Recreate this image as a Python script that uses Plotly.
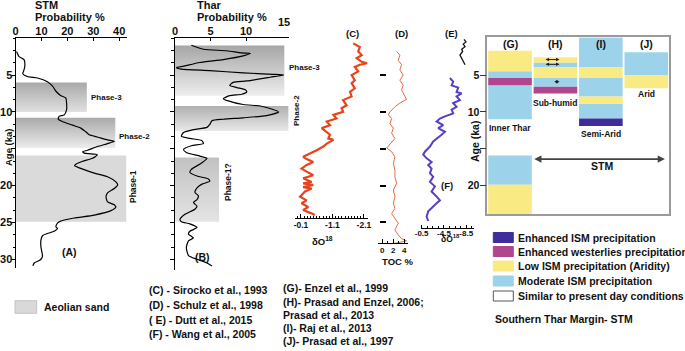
import plotly.graph_objects as go

# ---------------- data ----------------
# (A) STM probability %
A_age = [1.8,2.5,2.9,3.8,4.5,4.8,5.2,5.4,5.9,6.5,7.2,7.8,8.1,8.8,9.7,10.4,10.6,11.0,11.3,11.8,
         12.2,12.7,13.1,13.4,13.8,14.0,14.3,14.7,15.2,15.4,15.6,15.8,16.3,16.7,17.1,17.3,17.6,18.3,18.8,19.5,
         19.9,20.4,21.0,21.5,22.2,22.6,22.9,23.4,24.0,24.4,24.8,25.1,25.6,25.8,26.2,26.5,26.8,27.4,28.3,29.6,
         30.1,30.5,30.9]
A_prob = [0.4,1.4,3.3,3.6,3.1,2.8,4.6,8.5,12.3,14.3,15.6,17.5,19.4,19.7,19.7,18.8,16.8,16.5,18.1,22.0,
          25.2,27.1,28.4,31.6,35.5,38.1,35.5,31.6,27.8,25.9,26.5,31.6,29.7,25.9,23.3,22.8,24.6,30.4,35.5,38.7,
          39.4,38.1,35.5,34.9,35.5,38.1,38.7,36.8,30.4,22.6,17.5,16.2,15.6,16.2,14.9,12.3,10.4,9.8,9.8,10.4,
          9.5,7.2,6.7]
A_phase_name = ["Phase-3", "Phase-2", "Phase-1"]
A_phase_top = [6.0, 10.8, 15.9]
A_phase_bot = [10.0, 14.9, 24.9]
A_phase_max = [27.5, 38.5, 42.7]

# (B) Thar probability %
B_age = [0.95,1.5,1.7,2.0,2.05,2.4,2.9,3.3,3.8,4.0,4.2,4.4,4.7,4.9,5.0,5.3,5.8,6.0,6.4,6.7,
         7.0,7.3,7.6,7.8,8.2,8.5,9.0,9.2,9.6,10.0,10.5,10.8,11.0,11.2,11.7,12.1,12.4,12.8,13.3,13.6,
         13.9,14.3,14.6,15.1,15.5,16.0,16.3,16.9,17.8,18.2,18.7,19.1,19.4,19.8,20.3,20.9,21.4,21.9,22.3,22.8,
         23.2,23.9,24.6,24.9,25.2,25.7,26.2,26.6,27.1,27.5,28.4,29.5,30.0,30.5,30.9]
B_prob = [2.3,4.0,7.3,9.4,10.6,9.6,6.8,3.5,1.2,0.2,0.9,4.9,9.6,13.8,15.3,13.4,10.1,8.2,7.7,8.7,
          9.9,10.1,9.4,7.7,6.8,7.5,9.6,12.0,13.6,14.6,12.9,9.6,6.8,5.2,4.9,4.5,2.6,1.2,0.9,2.1,
          3.8,4.0,2.3,1.2,1.6,3.5,4.5,3.8,2.3,2.1,3.1,4.7,4.9,3.8,3.1,2.8,3.3,3.1,2.6,3.1,
          2.8,1.4,0.7,0.9,2.1,3.1,2.1,1.9,2.6,1.9,1.6,1.9,3.1,4.5,5.2]
B_phase_name = ["Phase-3", "Phase-2", "Phase-1?"]
B_phase_top = [1.0, 9.2, 16.2]
B_phase_bot = [7.8, 12.6, 24.9]
B_phase_max = [15.4, 16.0, 6.2]

# (C) d18O (Sirocko et al., 1993)
C_age = [0.7,1.2,1.8,2.3,2.7,3.2,3.4,3.6,3.9,4.5,5.0,5.7,6.1,6.8,7.3,7.9,8.4,9.1,9.5,10.0,
         10.4,10.9,11.3,11.8,12.2,12.7,13.1,13.6,13.8,14.3,14.7,15.2,15.6,16.1,16.4,16.8,17.2,17.7,18.1,18.6,
         19.0,19.5,19.7,19.9,20.2,20.4,20.8,21.5,22.0,22.4,22.9,23.3,23.7,24.0]
C_d18o = [-1.76,-1.97,-1.92,-2.03,-1.87,-2.03,-2.20,-1.97,-1.81,-1.92,-1.71,-1.81,-1.71,-1.81,-1.66,-1.71,-1.44,-1.55,-1.39,-1.44,
          -1.13,-1.23,-0.92,-1.02,-0.76,-0.92,-1.02,-0.97,-1.13,-0.92,-0.81,-0.60,-0.39,-0.17,-0.28,-0.49,-0.28,-0.12,-0.28,-0.49,
          -0.17,-0.44,-0.17,-0.49,-0.17,-0.44,-0.23,-0.07,-0.28,-0.12,-0.33,-0.17,-0.39,-0.54]

# (D) TOC % (Schulz et al., 1998)
D_age = [1.8,2.3,3.0,3.6,4.3,5.0,5.7,6.4,7.0,8.3,8.8,9.3,10.0,10.4,10.9,11.6,12.2,12.9,13.6,14.3,
         14.9,15.4,16.1,17.0,17.9,18.8,19.7,20.6,21.5,22.4,23.1,23.8,24.4,25.1,26.0,26.7,27.2,27.5,27.8,27.9]
D_toc = [2.6,3.2,2.9,3.5,3.2,3.8,3.2,3.8,3.5,4.4,3.2,2.3,1.4,1.1,1.7,1.4,2.0,1.7,2.3,1.4,
         0.8,1.7,2.3,2.0,2.3,2.3,2.6,2.0,2.3,2.0,2.3,1.7,2.3,2.9,2.3,2.9,3.5,4.4,2.6,1.4]

# (E) Dutt et al., 2015 (relative)
E_age = [0.15,0.5,0.8,1.15,1.5,1.8,2.3,2.7,3.2,3.6]
E_val = [6.0,7.3,5.5,6.7,4.5,5.1,3.3,4.5,5.5,6.7]

# (F) d18O (Wang et al., 2005)
F_age = [5.4,5.9,6.4,6.7,7.3,7.5,7.9,8.4,8.8,9.3,9.7,10.2,10.6,10.9,11.3,11.8,12.2,12.7,13.1,13.6,
         14.0,14.7,15.4,15.8,16.3,16.8,17.2,17.7,18.3,18.8,19.5,20.1,20.8,21.5,22.0,22.4,22.9,23.5,24.2,24.8]
F_d18o = [-5.57,-6.16,-5.88,-7.06,-6.77,-7.67,-6.77,-7.36,-6.16,-6.77,-5.88,-6.16,-4.68,-3.78,-3.19,-4.37,-3.47,-4.68,-4.08,-3.19,
          -2.58,-1.99,-1.09,-0.79,-1.40,-2.29,-1.68,-2.29,-1.99,-2.58,-1.99,-2.88,-2.29,-3.19,-3.78,-3.19,-2.58,-1.68,-1.40,-1.68]

# (G)-(J) climate interpretation columns
COLUMNS = ["(G)", "(H)", "(I)", "(J)"]
COLUMN_NOTE = ["Inner Thar", "Sub-humid", "Semi-Arid", "Arid"]
COLUMN_NOTE_AGE = [12.2, 8.8, 13.0, 7.6]
SEG_COL = [0,0,0,0,0,0, 1,1,1,1,1, 2,2,2,2,2,2, 3,3]
SEG_START = [1.7,4.5,5.4,6.4,15.9,19.9, 2.6,3.3,3.9,5.4,6.6, -0.1,3.9,5.4,7.9,8.9,10.9, 1.9,5.0]
SEG_END = [4.5,5.4,6.4,11.0,19.9,23.9, 3.3,3.9,5.4,6.6,7.5, 3.9,5.4,7.9,8.9,10.9,11.9, 5.0,6.8]
SEG_TYPE = ["low","mod","west","mod","mod","low", "low","mod","low","mod","west",
            "mod","low","mod","low","mod","enh", "mod","low"]
H_ARROW_X0 = [0.75, 0.75, 0.94]
H_ARROW_X1 = [1.09, 1.09, 1.09]
H_ARROW_AGE = [2.9, 3.55, 5.9]
STM_SPAN = [0.5, 3.41]
STM_AGE = 16.4

LEGEND_KEYS = ["enh", "west", "low", "mod", "present"]
LEGEND_LABELS = ["Enhanced ISM precipitation", "Enhanced westerlies precipitation",
                 "Low ISM precipitation (Aridity)", "Moderate ISM precipitation",
                 "Similar to present day conditions"]
REFS_LEFT = ["(C) - Sirocko et al., 1993", "(D) - Schulz et al., 1998",
             "( E) - Dutt et al., 2015", "(F) - Wang et al., 2005"]
REFS_RIGHT = ["(G)- Enzel et al., 1999", "(H)- Prasad and Enzel, 2006;", "Prasad et al., 2013",
              "(I)- Raj et al., 2013", "(J)- Prasad et al., 1997"]

# ---------------- styling / geometry ----------------
W, H = 685, 351
AGE0_PX, PX_PER_KA = 38.2, 7.37
FONT = "Liberation Sans, Arial, sans-serif"
COLORS = {"enh": "#3d2e9c", "west": "#b0468e", "low": "#f9ea84", "mod": "#9dd3ea", "present": "#ffffff"}
A_SHADES = [("#e0e0e0", "#a8a8a8"), ("#ececec", "#a9a9a9"), ("#dadada", "#dadada")]
B_SHADES = [("#eeeeee", "#a6a6a6"), ("#e8e8e8", "#b0b0b0"), ("#e4e4e4", "#c2c2c2")]


def fx(px):
    return px / W


def fy(py):
    return 1 - py / H


def age_at(py):
    return (py - AGE0_PX) / PX_PER_KA


fig = go.Figure()


def add_boxes(tops, bots, maxes, shades, xa, ya):
    for t, b, m, (c0, c1) in zip(tops, bots, maxes, shades):
        fig.add_trace(go.Scatter(
            x=[0, m, m, 0, 0], y=[t, t, b, b, t], mode="lines", fill="toself",
            line=dict(width=0), fillgradient=dict(type="vertical", colorscale=[[0, c0], [1, c1]]),
            xaxis=xa, yaxis=ya, hoverinfo="skip", showlegend=False))


add_boxes(A_phase_top, A_phase_bot, A_phase_max, A_SHADES, "x", "y")
add_boxes(B_phase_top, B_phase_bot, B_phase_max, B_SHADES, "x2", "y2")

fig.add_trace(go.Scatter(x=A_prob, y=A_age, mode="lines", line=dict(color="black", width=1.2, shape="spline", smoothing=0.6),
                         xaxis="x", yaxis="y", showlegend=False))
fig.add_trace(go.Scatter(x=B_prob, y=B_age, mode="lines", line=dict(color="black", width=1.2, shape="spline", smoothing=0.6),
                         xaxis="x2", yaxis="y2", showlegend=False))
fig.add_trace(go.Scatter(x=C_d18o, y=C_age, mode="lines", line=dict(color="#e8431c", width=2.2),
                         xaxis="x3", yaxis="y3", showlegend=False))
fig.add_trace(go.Scatter(x=D_toc, y=D_age, mode="lines", line=dict(color="#ea6a3e", width=1),
                         xaxis="x4", yaxis="y4", showlegend=False))
fig.add_trace(go.Scatter(x=E_val, y=E_age, mode="lines", line=dict(color="#111111", width=1.3),
                         xaxis="x5", yaxis="y3", showlegend=False))
fig.add_trace(go.Scatter(x=F_d18o, y=F_age, mode="lines", line=dict(color="#5a3ec6", width=2),
                         xaxis="x6", yaxis="y3", showlegend=False))

for key in ["mod", "low", "west", "enh"]:
    idx = [i for i, t in enumerate(SEG_TYPE) if t == key]
    fig.add_trace(go.Bar(
        x=[SEG_COL[i] for i in idx], base=[SEG_START[i] for i in idx],
        y=[SEG_END[i] - SEG_START[i] for i in idx], width=0.96,
        marker=dict(color=COLORS[key], line=dict(width=0)),
        xaxis="x7", yaxis="y5", showlegend=False, hoverinfo="skip"))

y_full = dict(domain=[fy(268), fy(AGE0_PX)], range=[age_at(268), 0], showgrid=False, zeroline=False)
axis_common = dict(showgrid=False, zeroline=False, linecolor="black", linewidth=1, tickcolor="black")

layout = dict(
    width=W, height=H, margin=dict(l=0, r=0, t=0, b=0, autoexpand=False),
    paper_bgcolor="white", plot_bgcolor="rgba(0,0,0,0)", barmode="overlay", showlegend=False,
    font=dict(family=FONT, size=10.5, color="#111111", weight="bold"),
    xaxis=dict(axis_common, domain=[fx(15.5), fx(127)], range=[0, 43], side="top", anchor="y",
               showline=True, ticks="inside", ticklen=3, tickvals=[0, 10, 20, 30, 40], tickfont=dict(size=11),
               ticklabelstandoff=-2),
    yaxis=dict(axis_common, domain=[fy(268), fy(AGE0_PX)], range=[age_at(268), 0], anchor="x",
               showline=True, ticks="outside", ticklen=4, tickvals=[5, 10, 15, 20, 25, 30],
               ticktext=["5", "10", "", "20", "25", "30"], tickfont=dict(size=11), ticklabelstandoff=-4,
               minor=dict(dtick=5 / 3, tick0=0, ticks="outside", ticklen=2, tickcolor="black")),
    xaxis2=dict(axis_common, domain=[fx(175), fx(288.6)], range=[0, 16], side="top", anchor="y2",
                showline=True, ticks="inside", ticklen=3, tickvals=[0, 5, 10], tickfont=dict(size=11),
                ticklabelstandoff=-2),
    yaxis2=dict(axis_common, domain=[fy(270), fy(AGE0_PX)], range=[age_at(270), 0], anchor="x2",
                showline=True, ticks="outside", ticklen=4, tickvals=[5, 10, 15, 20, 25, 30], showticklabels=False,
                minor=dict(dtick=5 / 3, tick0=0, ticks="outside", ticklen=3, tickcolor="black")),
    yaxis3=dict(y_full, visible=False, anchor="free", position=0),
    yaxis4=dict(y_full, anchor="free", position=fx(385.5), showline=False, ticks="outside", ticklen=6,
                tickwidth=2, tickcolor="black", tickvals=[5, 10, 15, 20, 25], showticklabels=False),
    xaxis3=dict(axis_common, domain=[fx(295), fx(368)], range=[0.09, -2.23], anchor="free", position=fy(218.3),
                showline=True, ticks="inside", ticklen=4, tickvals=[-0.1, -1.1, -2.1],
                ticktext=["-0.1", "-1.1", "-2.1"], tickfont=dict(size=8.5), ticklabelstandoff=-2,
                minor=dict(dtick=0.1, tick0=-0.1, ticks="inside", ticklen=2.5, tickcolor="black")),
    xaxis4=dict(axis_common, domain=[fx(378.3), fx(408.3)], range=[-0.73, 4.73], anchor="free", position=fy(243.3),
                showline=True, ticks="inside", ticklen=4, tickvals=[0, 2, 4], tickfont=dict(size=8),
                ticklabelstandoff=-1,
                minor=dict(dtick=1, ticks="inside", ticklen=2.5, tickcolor="black")),
    xaxis5=dict(domain=[fx(455), fx(470)], range=[0, 10], visible=False, anchor="free", position=0),
    xaxis6=dict(axis_common, domain=[fx(420.5), fx(474)], range=[-0.3, -9.89], anchor="free", position=fy(228.3),
                showline=True, ticks="inside", ticklen=3, tickvals=[-0.5, -4.5, -8.5],
                ticktext=["-0.5", "-4.5", "-8.5"], tickfont=dict(size=8), ticklabelstandoff=-3,
                minor=dict(dtick=1, tick0=-0.5, ticks="inside", ticklen=2, tickcolor="black")),
    xaxis7=dict(domain=[fx(487.3), fx(669)], range=[-0.5, 3.5], anchor="y5", showline=True, mirror=True,
                linecolor="#9a9a9a", linewidth=1.5, showticklabels=False, ticks="", showgrid=False, zeroline=False),
    yaxis5=dict(domain=[fy(214), fy(37.3)], range=[age_at(214), age_at(37.3)], anchor="x7", showline=True,
                mirror=True, linecolor="#9a9a9a", linewidth=1.5, ticks="outside", ticklen=6, tickcolor="#333333",
                tickvals=[5, 10, 15, 20], ticktext=["5", "10", "", "20"], tickfont=dict(size=10.5),
                ticklabelstandoff=-2, showgrid=False, zeroline=False),
)
fig.update_layout(**layout)
fig.update_xaxes(automargin=False)
fig.update_yaxes(automargin=False)

ann = []


def text(t, x, y, size=10.5, xanchor="center", angle=0, color="#111111"):
    ann.append(dict(text=t, x=fx(x), y=fy(y), xref="paper", yref="paper", showarrow=False,
                    xanchor=xanchor, yanchor="middle", textangle=angle,
                    font=dict(size=size, color=color)))


text("STM", 33, 5, 11, "left")
text("Probability %", 33, 17, 11, "left")
text("Thar", 195, 5, 11, "left")
text("Probability %", 195, 17, 11, "left")
text("15", 284, 22, 11)
text("Age (ka)", 8, 148, 9.5, angle=-90)
text(A_phase_name[0], 89, 97, 8, "left")
text(A_phase_name[1], 117, 136, 8, "left")
text(A_phase_name[2], 133, 187, 8.5, angle=-90)
text("(A)", 69, 252, 10.5)
text(B_phase_name[0], 287, 67, 8, "left")
text(B_phase_name[1], 296, 111, 8, angle=-90)
text(B_phase_name[2], 228, 182, 8.5, angle=-90)
text("(B)", 202, 257, 10.5)
text("(C)", 353, 34, 9.5)
text("(D)", 401, 34, 9.5)
text("(E)", 452, 34, 9.5)
text("(F)", 447, 185, 9.5)
text("δO<sup>18</sup>", 322, 241, 9.5)
text("δO<sup>18</sup>", 450, 239, 8.5)
text("TOC %", 398, 261.5, 9.5)
text("Age (ka)", 475, 142, 10.5, angle=-90)
text("Aeolian sand", 42, 307, 10.5, "left")
for i, r in enumerate(REFS_LEFT):
    text(r, 147, [290, 304.5, 320, 334][i], 10.5, "left")
for i, r in enumerate(REFS_RIGHT):
    text(r, 281, [288, 301.5, 314.5, 328, 341][i], 10.5, "left")
LEG_Y = [237.5, 251.5, 266, 281, 296]
shapes = []
for k, lab, yc in zip(LEGEND_KEYS, LEGEND_LABELS, LEG_Y):
    shapes.append(dict(type="rect", xref="paper", yref="paper", x0=fx(493.3), x1=fx(513.3),
                       y0=fy(yc + 5), y1=fy(yc - 5), fillcolor=COLORS[k],
                       line=dict(color="#555555" if k == "present" else COLORS[k], width=1)))
    text(lab, 515.5, yc, 10.5, "left")
text("Southern Thar Margin- STM", 493, 319, 10.5, "left")
shapes.append(dict(type="rect", xref="paper", yref="paper", x0=fx(15), x1=fx(36.7), y0=fy(313.3), y1=fy(300.7),
                   fillcolor="#d9d9d9", line=dict(color="#c4c4c4", width=1)))

# column headers and notes in G-J panel
for i, (c, n, na) in enumerate(zip(COLUMNS, COLUMN_NOTE, COLUMN_NOTE_AGE)):
    ann.append(dict(text=c, x=i, y=0.75, xref="x7", yref="y5", showarrow=False, font=dict(size=10.5)))
    ann.append(dict(text=n, x=i, y=na, xref="x7", yref="y5", showarrow=False, font=dict(size=8.5)))
for x0, x1, a in zip(H_ARROW_X0, H_ARROW_X1, H_ARROW_AGE):
    ann.append(dict(text="", x=x1, y=a, ax=x0, ay=a, xref="x7", yref="y5", axref="x7", ayref="y5",
                    showarrow=True, arrowhead=2, arrowside="end+start", arrowsize=0.7, arrowwidth=1,
                    arrowcolor="#222222"))
ann.append(dict(text="", x=STM_SPAN[1], y=STM_AGE, ax=STM_SPAN[0], ay=STM_AGE, xref="x7", yref="y5",
                axref="x7", ayref="y5", showarrow=True, arrowhead=2, arrowside="end+start", arrowsize=0.8,
                arrowwidth=1.8, arrowcolor="#444444"))
ann.append(dict(text="STM", x=2.02, y=17.4, xref="x7", yref="y5", showarrow=False, font=dict(size=10.5)))

fig.update_layout(annotations=ann, shapes=shapes)
fig.write_html("out.html", config={"displayModeBar": False},
               post_script="document.body.style.margin='0px';document.body.style.overflow='hidden';")
